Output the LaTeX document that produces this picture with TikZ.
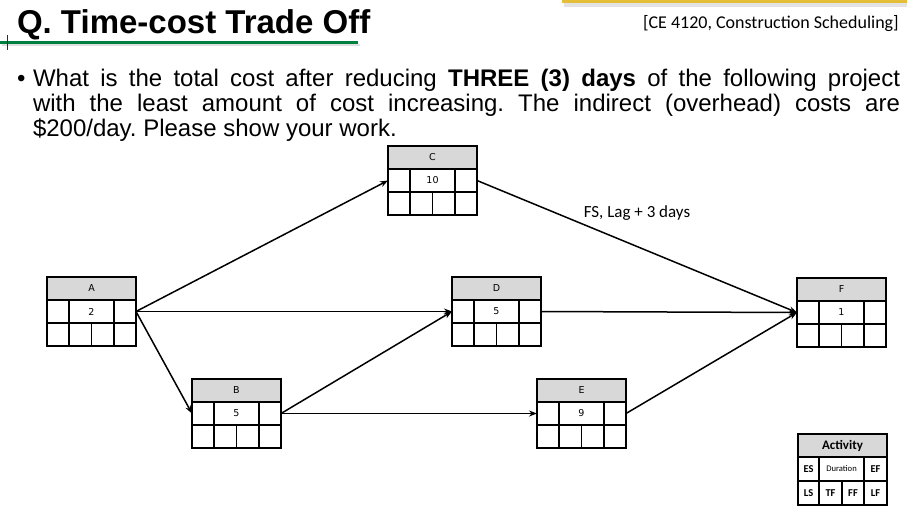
\documentclass[tikz,border=0pt]{standalone}
\usepackage{fontspec}
\setmainfont{Liberation Sans}
\newfontfamily\calib{Carlito}
\newfontfamily\dvs{DejaVu Sans}
\usetikzlibrary{arrows.meta}
\definecolor{titlegreen}{RGB}{0,128,64}
\definecolor{tickblue}{RGB}{25,45,90}
\definecolor{goldbar}{RGB}{228,190,55}
\definecolor{hdrgray}{RGB}{216,216,216}
\frenchspacing
\newcommand\actbox[5]{%
  \node[hdr, anchor=north west] (#1) at (#2,#3) {#4};
  \node[cellS, anchor=north west] (#1-l) at (#2,#3+23) {};
  \node[cellD, anchor=north west] (#1-d) at (#2+22,#3+23) {#5};
  \node[cellS, anchor=north west] (#1-r) at (#2+67,#3+23) {};
  \node[cellS, anchor=north west] (#1-ls) at (#2,#3+46) {};
  \node[cellM, anchor=north west] (#1-tf) at (#2+22,#3+46) {};
  \node[cellM, anchor=north west] (#1-ff) at (#2+44.5,#3+46) {};
  \node[cellS, anchor=north west] (#1-lf) at (#2+67,#3+46) {};
}
\begin{document}
\begin{tikzpicture}[x=1pt,y=-1pt,
  boxline/.style={draw=black, line width=1.2pt, inner sep=0pt, outer sep=0pt},
  hdr/.style={boxline, fill=hdrgray, minimum width=89pt, minimum height=23pt, font=\dvs\fontsize{9.5}{11}\selectfont},
  cellS/.style={boxline, minimum width=22pt, minimum height=23pt},
  cellM/.style={boxline, minimum width=22.5pt, minimum height=23pt},
  cellD/.style={boxline, minimum width=45pt, minimum height=23pt, font=\dvs\fontsize{9.5}{11}\selectfont},
  link/.style={line width=1.5pt, -{Stealth[length=8pt,width=6pt]}},
  txt/.style={inner sep=0pt, outer sep=0pt, anchor=base west},
  legtxt/.style={font=\calib\bfseries\fontsize{10.5}{12}\selectfont}
]
\useasboundingbox (0,0) rectangle (907,520);

% header decorations
\fill[gray!22] (564,3) rectangle (907,6.5);
\fill[goldbar] (562,0) rectangle (907,3.2);
\draw[gray!25, line width=2pt] (2,45) -- (360,45);
\draw[titlegreen, line width=2.6pt] (0,42.5) -- (358,42.5);
\draw[tickblue, line width=0.8pt] (7,35) -- (7,50);

\node[txt] (title) at (17,33) {\fontsize{33}{36}\selectfont\bfseries Q. Time-cost Trade Off};
\node[inner sep=0pt, anchor=base east] (course) at (899,28) {\calib\fontsize{18}{20}\selectfont [CE 4120, Construction Scheduling]};

% question text
\node[txt] (bullet) at (17,86) {\fontsize{24}{25}\selectfont •};
\node[txt] (q1) at (33,86) {\fontsize{24}{25}\selectfont\makebox[867pt][s]{What is the total cost after reducing \textbf{THREE (3) days} of the following project}};
\node[txt] (q2) at (33,111) {\fontsize{24}{25}\selectfont\makebox[867pt][s]{with the least amount of cost increasing. The indirect (overhead) costs are}};
\node[txt] (q3) at (33,136) {\fontsize{24}{25}\selectfont \$200/day. Please show your work.};

% activities
\actbox{A}{47}{277}{A}{2}
\actbox{C}{388}{146}{C}{10}
\actbox{D}{452}{277}{D}{5}
\actbox{F}{797}{278}{F}{1}
\actbox{B}{192}{379}{B}{5}
\actbox{E}{537}{379}{E}{9}

% connectors
\draw[link] (A-r.east) -- (C-l.west);
\draw[link] (A-r.east) -- (D-l.west);
\draw[link] (A-r.east) -- (B-l.west);
\draw[link] (B-r.east) -- (D-l.west);
\draw[link] (B-r.east) -- (E-l.west);
\draw[link] (C-r.east) -- node[midway, yshift=33pt, font=\calib\fontsize{17}{19}\selectfont] (lag) {FS, Lag + 3 days} (F-l.west);
\draw[link] (D-r.east) -- (F-l.west);
\draw[link] (E-r.east) -- (F-l.west);

% legend
\node[boxline, fill=hdrgray, minimum width=89pt, minimum height=23pt, anchor=north west, font=\calib\bfseries\fontsize{13}{15}\selectfont] (leg) at (798,434) {Activity};
\node[boxline, minimum width=21pt, minimum height=24pt, anchor=north west, legtxt] (leg-es) at (798,457) {ES};
\node[boxline, minimum width=45pt, minimum height=24pt, anchor=north west, font=\calib\fontsize{8.6}{10}\selectfont] (leg-dur) at (819,457) {Duration};
\node[boxline, minimum width=23pt, minimum height=24pt, anchor=north west, legtxt] (leg-ef) at (864,457) {EF};
\node[boxline, minimum width=21pt, minimum height=24pt, anchor=north west, legtxt] (leg-ls) at (798,481) {LS};
\node[boxline, minimum width=23pt, minimum height=24pt, anchor=north west, legtxt] (leg-tf) at (819,481) {TF};
\node[boxline, minimum width=22pt, minimum height=24pt, anchor=north west, legtxt] (leg-ff) at (842,481) {FF};
\node[boxline, minimum width=23pt, minimum height=24pt, anchor=north west, legtxt] (leg-lf) at (864,481) {LF};
\end{tikzpicture}
\end{document}
